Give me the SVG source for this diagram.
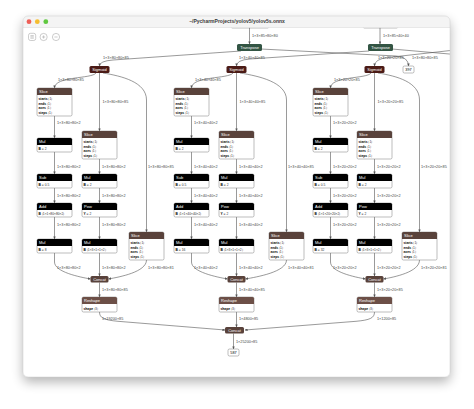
<svg xmlns="http://www.w3.org/2000/svg" xmlns:xlink="http://www.w3.org/1999/xlink" width="474" height="409" viewBox="0 0 474 409">
<style>
.bd{fill:#fff;stroke:#7a7a7a;stroke-width:0.5}
.tn{fill:#59423b}
.sh{fill:#6c4f47}
.ac{fill:#4b1b16}
.tr{fill:#335544}
.op{fill:#000}
.e{fill:none;stroke:#555;stroke-width:0.6;marker-end:url(#ah)}
.en{fill:none;stroke:#555;stroke-width:0.6}
text{font-family:"Liberation Sans",Arial,sans-serif}
.h{font-size:4px;fill:#fff}
.hc{font-size:4px;fill:#fff;text-anchor:middle}
.a{font-size:3.3px;fill:#333}
.k{font-weight:bold;fill:#000}
.l{font-size:3.8px;fill:#444}
.o{font-size:3.8px;fill:#000;text-anchor:middle}
</style>
<defs>
<filter id="sh" x="-10%" y="-10%" width="120%" height="125%">
<feGaussianBlur in="SourceAlpha" stdDeviation="6"/>
<feOffset dy="5"/>
<feComponentTransfer><feFuncA type="linear" slope="0.3"/></feComponentTransfer>
<feMerge><feMergeNode/><feMergeNode in="SourceGraphic"/></feMerge>
</filter>
<clipPath id="cc"><rect x="23" y="27.5" width="427" height="349.5" rx="5"/></clipPath>
<marker id="ah" markerUnits="userSpaceOnUse" markerWidth="3" markerHeight="2.4" refX="2.6" refY="1.2" orient="auto"><path d="M0,0L3,1.2L0,2.4Z" fill="#555"/></marker>
<g id="boxSlice"><rect class="bd" width="35" height="28" rx="1.5"/><path class="tn" d="M0,7V1.5Q0,0 1.5,0H33.5Q35,0 35,1.5V7Z"/></g>
<g id="boxOp"><rect class="bd" width="35" height="14" rx="1.5"/><path class="op" d="M0,7V1.5Q0,0 1.5,0H33.5Q35,0 35,1.5V7Z"/></g>
<g id="boxRs"><rect class="bd" width="35" height="15" rx="1.5"/><path class="sh" d="M0,7V1.5Q0,0 1.5,0H33.5Q35,0 35,1.5V7Z"/></g>
<g id="sliceAttrs">
<text class="a" x="1.5" y="12.3"><tspan class="k">starts</tspan> ⟨1⟩</text>
<text class="a" x="1.5" y="16.8"><tspan class="k">ends</tspan> ⟨1⟩</text>
<text class="a" x="1.5" y="21.3"><tspan class="k">axes</tspan> ⟨1⟩</text>
<text class="a" x="1.5" y="25.8"><tspan class="k">steps</tspan> ⟨1⟩</text>
</g>
</defs>

<rect width="474" height="409" fill="#fff"/>
<g id="window">
<rect x="23" y="16" width="427" height="361" rx="5" fill="#fff" filter="url(#sh)"/>
</g>

<g clip-path="url(#cc)">
<rect x="231" y="14" width="38" height="14" rx="1.5" class="bd"/>
<rect x="363" y="14" width="35" height="14" rx="1.5" class="bd"/>

<g id="edges">
<path class="e" d="M249.5,20V44"/>
<path class="e" d="M380,20V44"/>
<path class="e" d="M241,51L113,60Q99.5,61 99.5,66"/>
<path class="e" d="M261,49L396,56Q408.5,57 408.5,66"/>
<path class="e" d="M369,51L250,59Q236.5,60 236.5,66"/>
<path class="en" d="M392,49L455,54.5"/>
<path class="e" d="M455,50L388,57.5Q374.5,59 374.5,66"/>

<path class="e" d="M96,73C92,79 54.5,76 54.5,88"/>
<path class="e" d="M99.5,73V131"/>
<path class="e" d="M103,73C121.5,76 146.5,82 146.5,100V232"/>
<path class="e" d="M54.5,116V138"/>
<path class="e" d="M54.5,152V174"/>
<path class="e" d="M99.5,159V174"/>
<path class="e" d="M54.5,188V203"/>
<path class="e" d="M99.5,188V203"/>
<path class="e" d="M54.5,217V239"/>
<path class="e" d="M99.5,217V239"/>
<path class="e" d="M54.5,253V262C54.5,272 79.5,277 90.5,279"/>
<path class="e" d="M99.5,253V276"/>
<path class="e" d="M146.5,260C146.5,272 119.5,277 108.5,279"/>
<path class="e" d="M99.5,282.5V297"/>

<path class="e" d="M233,73C229,79 191.5,76 191.5,88"/>
<path class="e" d="M236.5,73V131"/>
<path class="e" d="M240,73C258.5,76 286.5,82 286.5,100V232"/>
<path class="e" d="M191.5,116V138"/>
<path class="e" d="M191.5,152V174"/>
<path class="e" d="M236.5,159V174"/>
<path class="e" d="M191.5,188V203"/>
<path class="e" d="M236.5,188V203"/>
<path class="e" d="M191.5,217V239"/>
<path class="e" d="M236.5,217V239"/>
<path class="e" d="M191.5,253V262C191.5,272 216.5,277 227.5,279"/>
<path class="e" d="M236.5,253V276"/>
<path class="e" d="M286.5,260C286.5,272 256.5,277 245.5,279"/>
<path class="e" d="M236.5,282.5V297"/>

<path class="e" d="M371,73C367,79 330.5,76 330.5,88"/>
<path class="e" d="M374.5,73V131"/>
<path class="e" d="M378,73C396.5,76 419.5,82 419.5,100V232"/>
<path class="e" d="M330.5,116V138"/>
<path class="e" d="M330.5,152V174"/>
<path class="e" d="M374.5,159V174"/>
<path class="e" d="M330.5,188V203"/>
<path class="e" d="M374.5,188V203"/>
<path class="e" d="M330.5,217V239"/>
<path class="e" d="M374.5,217V239"/>
<path class="e" d="M330.5,253V262C330.5,272 354.5,277 365.5,279"/>
<path class="e" d="M374.5,253V276"/>
<path class="e" d="M419.5,260C419.5,272 394.5,277 383.5,279"/>
<path class="e" d="M374.5,282.5V297"/>

<path class="e" d="M99.5,312C99.5,318 104,320 118,321.3L225,330"/>
<path class="e" d="M236.5,312V327"/>
<path class="e" d="M374.5,312C374.5,318 370,320 356,321.3L245,330"/>
<path class="e" d="M233.5,333.5V349"/>
</g>

<g id="edge-labels">
<text class="l" x="252" y="37.3">1×3×85×80×80</text>
<text class="l" x="383" y="37.3">1×3×85×40×40</text>
<text class="l" x="103" y="59.3">1×3×80×80×85</text>
<text class="l" x="239" y="59.3">1×3×40×40×85</text>
<text class="l" x="378" y="59.3">1×3×20×20×85</text>
<text class="l" x="412" y="59.3">1×3×80×80×85</text>

<text class="l" x="58" y="81.3">1×3×80×80×85</text>
<text class="l" x="102.5" y="103.3">1×3×80×80×85</text>
<text class="l" x="57" y="124.3">1×3×80×80×2</text>
<text class="l" x="57" y="168.3">1×3×80×80×2</text>
<text class="l" x="102" y="168.3">1×3×80×80×2</text>
<text class="l" x="148" y="168.3">1×3×80×80×85</text>
<text class="l" x="57" y="197.3">1×3×80×80×2</text>
<text class="l" x="102" y="197.3">1×3×80×80×2</text>
<text class="l" x="57" y="226.3">1×3×80×80×2</text>
<text class="l" x="102" y="226.3">1×3×80×80×2</text>
<text class="l" x="57" y="269.3">1×3×80×80×2</text>
<text class="l" x="102" y="269.3">1×3×80×80×2</text>
<text class="l" x="148" y="269.3">1×3×80×80×81</text>
<text class="l" x="102" y="291.3">1×3×80×80×85</text>
<text class="l" x="102" y="320.3">1×19200×85</text>

<text class="l" x="195" y="81.3">1×3×40×40×85</text>
<text class="l" x="239.5" y="103.3">1×3×40×40×85</text>
<text class="l" x="194" y="124.3">1×3×40×40×2</text>
<text class="l" x="194" y="168.3">1×3×40×40×2</text>
<text class="l" x="239" y="168.3">1×3×40×40×2</text>
<text class="l" x="288" y="168.3">1×3×40×40×85</text>
<text class="l" x="194" y="197.3">1×3×40×40×2</text>
<text class="l" x="239" y="197.3">1×3×40×40×2</text>
<text class="l" x="194" y="226.3">1×3×40×40×2</text>
<text class="l" x="239" y="226.3">1×3×40×40×2</text>
<text class="l" x="194" y="269.3">1×3×40×40×2</text>
<text class="l" x="239" y="269.3">1×3×40×40×2</text>
<text class="l" x="288" y="269.3">1×3×40×40×81</text>
<text class="l" x="239" y="291.3">1×3×40×40×85</text>
<text class="l" x="239" y="320.3">1×4800×85</text>

<text class="l" x="334" y="81.3">1×3×20×20×85</text>
<text class="l" x="377.5" y="103.3">1×3×20×20×85</text>
<text class="l" x="333" y="124.3">1×3×20×20×2</text>
<text class="l" x="333" y="168.3">1×3×20×20×2</text>
<text class="l" x="377" y="168.3">1×3×20×20×2</text>
<text class="l" x="421" y="168.3">1×3×20×20×85</text>
<text class="l" x="333" y="197.3">1×3×20×20×2</text>
<text class="l" x="377" y="197.3">1×3×20×20×2</text>
<text class="l" x="333" y="226.3">1×3×20×20×2</text>
<text class="l" x="377" y="226.3">1×3×20×20×2</text>
<text class="l" x="333" y="269.3">1×3×20×20×2</text>
<text class="l" x="377" y="269.3">1×3×20×20×2</text>
<text class="l" x="421" y="269.3">1×3×20×20×81</text>
<text class="l" x="377" y="291.3">1×3×20×20×85</text>
<text class="l" x="377" y="320.3">1×1200×85</text>

<text class="l" x="236" y="343.3">1×25200×85</text>
</g>

<g id="transpose1"><rect class="tr" x="237" y="44" width="25" height="7" rx="1.5"/><text class="hc" x="249.5" y="48.9">Transpose</text></g>
<g id="transpose2"><rect class="tr" x="368" y="44" width="25" height="7" rx="1.5"/><text class="hc" x="380.5" y="48.9">Transpose</text></g>
<g id="sigmoid1"><rect class="ac" x="89.5" y="66" width="20" height="7" rx="1.5"/><text class="hc" x="99.5" y="70.9">Sigmoid</text></g>
<g id="sigmoid2"><rect class="ac" x="226.5" y="66" width="20" height="7" rx="1.5"/><text class="hc" x="236.5" y="70.9">Sigmoid</text></g>
<g id="sigmoid3"><rect class="ac" x="364.5" y="66" width="20" height="7" rx="1.5"/><text class="hc" x="374.5" y="70.9">Sigmoid</text></g>
<g id="output397"><rect class="bd" x="403" y="66" width="11" height="7" rx="1.5"/><text class="o" x="408.5" y="70.8">397</text></g>

<g id="slice1a" transform="translate(37,88)"><use href="#boxSlice"/><text class="h" x="2" y="4.9">Slice</text><use href="#sliceAttrs"/></g>
<g id="slice1b" transform="translate(82,131)"><use href="#boxSlice"/><text class="h" x="2" y="4.9">Slice</text><use href="#sliceAttrs"/></g>
<g id="mul1a" transform="translate(37,138)"><use href="#boxOp"/><text class="h" x="2" y="4.9">Mul</text><text class="a" x="1.5" y="12.2"><tspan class="k">B</tspan> = 2</text></g>
<g id="sub1" transform="translate(37,174)"><use href="#boxOp"/><text class="h" x="2" y="4.9">Sub</text><text class="a" x="1.5" y="12.2"><tspan class="k">B</tspan> = 0.5</text></g>
<g id="mul1b" transform="translate(82,174)"><use href="#boxOp"/><text class="h" x="2" y="4.9">Mul</text><text class="a" x="1.5" y="12.2"><tspan class="k">B</tspan> = 2</text></g>
<g id="add1" transform="translate(37,203)"><use href="#boxOp"/><text class="h" x="2" y="4.9">Add</text><text class="a" x="1.5" y="12.2"><tspan class="k">B</tspan> ⟨1×1×80×80×2⟩</text></g>
<g id="pow1" transform="translate(82,203)"><use href="#boxOp"/><text class="h" x="2" y="4.9">Pow</text><text class="a" x="1.5" y="12.2"><tspan class="k">Y</tspan> = 2</text></g>
<g id="mul1c" transform="translate(37,239)"><use href="#boxOp"/><text class="h" x="2" y="4.9">Mul</text><text class="a" x="1.5" y="12.2"><tspan class="k">B</tspan> = 8</text></g>
<g id="mul1d" transform="translate(82,239)"><use href="#boxOp"/><text class="h" x="2" y="4.9">Mul</text><text class="a" x="1.5" y="12.2"><tspan class="k">B</tspan> ⟨1×3×1×1×2⟩</text></g>
<g id="slice1c" transform="translate(129,232)"><use href="#boxSlice"/><text class="h" x="2" y="4.9">Slice</text><use href="#sliceAttrs"/></g>
<g id="concat1"><rect class="tn" x="90.5" y="276" width="18" height="6.5" rx="1.5"/><text class="hc" x="99.5" y="280.6">Concat</text></g>
<g id="reshape1" transform="translate(82,297)"><use href="#boxRs"/><text class="h" x="2" y="4.9">Reshape</text><text class="a" x="1.5" y="12.6"><tspan class="k">shape</tspan> ⟨3⟩</text></g>

<g id="slice2a" transform="translate(174,88)"><use href="#boxSlice"/><text class="h" x="2" y="4.9">Slice</text><use href="#sliceAttrs"/></g>
<g id="slice2b" transform="translate(219,131)"><use href="#boxSlice"/><text class="h" x="2" y="4.9">Slice</text><use href="#sliceAttrs"/></g>
<g id="mul2a" transform="translate(174,138)"><use href="#boxOp"/><text class="h" x="2" y="4.9">Mul</text><text class="a" x="1.5" y="12.2"><tspan class="k">B</tspan> = 2</text></g>
<g id="sub2" transform="translate(174,174)"><use href="#boxOp"/><text class="h" x="2" y="4.9">Sub</text><text class="a" x="1.5" y="12.2"><tspan class="k">B</tspan> = 0.5</text></g>
<g id="mul2b" transform="translate(219,174)"><use href="#boxOp"/><text class="h" x="2" y="4.9">Mul</text><text class="a" x="1.5" y="12.2"><tspan class="k">B</tspan> = 2</text></g>
<g id="add2" transform="translate(174,203)"><use href="#boxOp"/><text class="h" x="2" y="4.9">Add</text><text class="a" x="1.5" y="12.2"><tspan class="k">B</tspan> ⟨1×1×40×40×2⟩</text></g>
<g id="pow2" transform="translate(219,203)"><use href="#boxOp"/><text class="h" x="2" y="4.9">Pow</text><text class="a" x="1.5" y="12.2"><tspan class="k">Y</tspan> = 2</text></g>
<g id="mul2c" transform="translate(174,239)"><use href="#boxOp"/><text class="h" x="2" y="4.9">Mul</text><text class="a" x="1.5" y="12.2"><tspan class="k">B</tspan> = 16</text></g>
<g id="mul2d" transform="translate(219,239)"><use href="#boxOp"/><text class="h" x="2" y="4.9">Mul</text><text class="a" x="1.5" y="12.2"><tspan class="k">B</tspan> ⟨1×3×1×1×2⟩</text></g>
<g id="slice2c" transform="translate(269,232)"><use href="#boxSlice"/><text class="h" x="2" y="4.9">Slice</text><use href="#sliceAttrs"/></g>
<g id="concat2"><rect class="tn" x="227.5" y="276" width="18" height="6.5" rx="1.5"/><text class="hc" x="236.5" y="280.6">Concat</text></g>
<g id="reshape2" transform="translate(219,297)"><use href="#boxRs"/><text class="h" x="2" y="4.9">Reshape</text><text class="a" x="1.5" y="12.6"><tspan class="k">shape</tspan> ⟨3⟩</text></g>

<g id="slice3a" transform="translate(313,88)"><use href="#boxSlice"/><text class="h" x="2" y="4.9">Slice</text><use href="#sliceAttrs"/></g>
<g id="slice3b" transform="translate(357,131)"><use href="#boxSlice"/><text class="h" x="2" y="4.9">Slice</text><use href="#sliceAttrs"/></g>
<g id="mul3a" transform="translate(313,138)"><use href="#boxOp"/><text class="h" x="2" y="4.9">Mul</text><text class="a" x="1.5" y="12.2"><tspan class="k">B</tspan> = 2</text></g>
<g id="sub3" transform="translate(313,174)"><use href="#boxOp"/><text class="h" x="2" y="4.9">Sub</text><text class="a" x="1.5" y="12.2"><tspan class="k">B</tspan> = 0.5</text></g>
<g id="mul3b" transform="translate(357,174)"><use href="#boxOp"/><text class="h" x="2" y="4.9">Mul</text><text class="a" x="1.5" y="12.2"><tspan class="k">B</tspan> = 2</text></g>
<g id="add3" transform="translate(313,203)"><use href="#boxOp"/><text class="h" x="2" y="4.9">Add</text><text class="a" x="1.5" y="12.2"><tspan class="k">B</tspan> ⟨1×1×20×20×2⟩</text></g>
<g id="pow3" transform="translate(357,203)"><use href="#boxOp"/><text class="h" x="2" y="4.9">Pow</text><text class="a" x="1.5" y="12.2"><tspan class="k">Y</tspan> = 2</text></g>
<g id="mul3c" transform="translate(313,239)"><use href="#boxOp"/><text class="h" x="2" y="4.9">Mul</text><text class="a" x="1.5" y="12.2"><tspan class="k">B</tspan> = 32</text></g>
<g id="mul3d" transform="translate(357,239)"><use href="#boxOp"/><text class="h" x="2" y="4.9">Mul</text><text class="a" x="1.5" y="12.2"><tspan class="k">B</tspan> ⟨1×3×1×1×2⟩</text></g>
<g id="slice3c" transform="translate(402,232)"><use href="#boxSlice"/><text class="h" x="2" y="4.9">Slice</text><use href="#sliceAttrs"/></g>
<g id="concat3"><rect class="tn" x="365.5" y="276" width="18" height="6.5" rx="1.5"/><text class="hc" x="374.5" y="280.6">Concat</text></g>
<g id="reshape3" transform="translate(357,297)"><use href="#boxRs"/><text class="h" x="2" y="4.9">Reshape</text><text class="a" x="1.5" y="12.6"><tspan class="k">shape</tspan> ⟨3⟩</text></g>

<g id="concat-final"><rect class="tn" x="225" y="327" width="19" height="6.5" rx="1.5"/><text class="hc" x="234.5" y="331.6">Concat</text></g>
<g id="output587"><rect class="bd" x="228" y="349" width="11" height="7" rx="1.5"/><text class="o" x="233.5" y="353.8">587</text></g>
</g>

<g id="titlebar">
<path d="M23,27.5V21Q23,16 28,16H445Q450,16 450,21V27.5Z" fill="#f4f4f4"/>
<line x1="23" y1="27.5" x2="450" y2="27.5" stroke="#dcdcdc" stroke-width="0.6"/>
<circle cx="29" cy="21.7" r="2.4" fill="#ee5f57"/>
<circle cx="37.3" cy="21.7" r="2.4" fill="#f5bd30"/>
<circle cx="45.8" cy="21.7" r="2.4" fill="#5fc83f"/>
<text x="237" y="23.3" font-size="5px" font-weight="bold" fill="#3a3a3a" text-anchor="middle">~/PycharmProjects/yolov5/yolov5s.onnx</text>
</g>
<g id="toolbar" fill="#fff" stroke="#9a9a9a" stroke-width="0.5">
<rect x="28.5" y="33.3" width="7.2" height="7.2" rx="2"/>
<path d="M30.4,35.6H33.8M30.4,36.9H33.8M30.4,38.2H33.8" fill="none"/>
<circle cx="43.6" cy="37" r="3.6"/>
<path d="M42,37H45.2M43.6,35.4V38.6" fill="none"/>
<circle cx="56" cy="37" r="3.6"/>
<path d="M54.4,37H57.6" fill="none"/>
</g>
<rect x="23" y="16" width="427" height="361" rx="5" fill="none" stroke="#cfcfcf" stroke-width="0.5"/>
</svg>
